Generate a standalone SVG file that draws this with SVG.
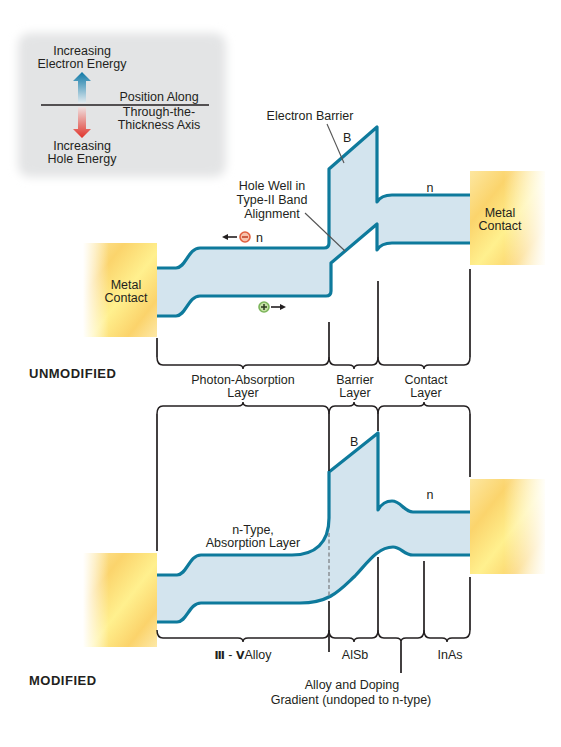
<svg xmlns="http://www.w3.org/2000/svg" width="561" height="747" viewBox="0 0 561 747">
<style>
text{font-family:"Liberation Sans",Arial,sans-serif;font-size:12.5px;fill:#231f20}
.c{text-anchor:middle}
.bold{font-weight:bold;font-size:13px;letter-spacing:0.5px}
.band{fill:none;stroke:#0e7a9c;stroke-width:3.2;stroke-linejoin:round}
.fill{fill:#d3e4ee;stroke:none}
.rule{stroke:#231f20;stroke-width:1.7;fill:none}
.brace{stroke:#231f20;stroke-width:1.5;fill:none}
.ptr{stroke:#555;stroke-width:1.1;fill:none}
</style>
<defs>
<filter id="soft" x="-20%" y="-20%" width="140%" height="140%"><feGaussianBlur stdDeviation="5"/></filter>
<linearGradient id="gold" x1="0" y1="0" x2="1" y2="1">
<stop offset="0" stop-color="#fde7a0"/>
<stop offset="0.28" stop-color="#fbd46c"/>
<stop offset="0.55" stop-color="#fff08e"/>
<stop offset="0.8" stop-color="#fbd36b"/>
<stop offset="1" stop-color="#fde9a8"/>
</linearGradient>
<linearGradient id="fadeL" x1="0" y1="0" x2="1" y2="0">
<stop offset="0" stop-color="#fff" stop-opacity="1"/>
<stop offset="0.35" stop-color="#fff" stop-opacity="0"/>
</linearGradient>
<linearGradient id="fadeR" x1="0" y1="0" x2="1" y2="0">
<stop offset="0.45" stop-color="#fff" stop-opacity="0"/>
<stop offset="1" stop-color="#fff" stop-opacity="0.95"/>
</linearGradient>
<linearGradient id="upG" gradientUnits="userSpaceOnUse" x1="0" y1="72" x2="0" y2="104">
<stop offset="0" stop-color="#0e78a6"/>
<stop offset="1" stop-color="#e8eef2"/>
</linearGradient>
<linearGradient id="dnG" gradientUnits="userSpaceOnUse" x1="0" y1="106" x2="0" y2="138">
<stop offset="0" stop-color="#f0e6e6"/>
<stop offset="1" stop-color="#e0332a"/>
</linearGradient>
</defs>

<g id="legend">
<rect x="18" y="33" width="208" height="144" rx="12" fill="#e3e4e5" filter="url(#soft)"/>
<polygon points="82,72 91,81 86,81 86,103 78,103 78,81 73,81" fill="url(#upG)"/>
<polygon points="78,107 86,107 86,129 91,129 82,138 73,129 78,129" fill="url(#dnG)"/>
<line x1="41" y1="105" x2="209" y2="105" stroke="#231f20" stroke-width="1.7"/>
<text class="c" x="82" y="54.5">Increasing</text>
<text class="c" x="82" y="67.5">Electron Energy</text>
<text class="c" x="159" y="100.5">Position Along</text>
<text class="c" x="159" y="115.5">Through-the-</text>
<text class="c" x="159" y="128.5">Thickness Axis</text>
<text class="c" x="82" y="149.5">Increasing</text>
<text class="c" x="82" y="162.5">Hole Energy</text>
</g>

<g id="contact-top-left">
<rect x="83" y="243" width="74" height="94" fill="url(#gold)"/>
<rect x="83" y="243" width="74" height="94" fill="url(#fadeL)"/>
<text class="c" x="126" y="288.5">Metal</text>
<text class="c" x="126" y="301.5">Contact</text>
</g>
<g id="contact-top-right">
<rect x="470" y="171" width="75" height="94" fill="url(#gold)"/>
<rect x="470" y="171" width="75" height="94" fill="url(#fadeR)"/>
<text class="c" x="500" y="216.5">Metal</text>
<text class="c" x="500" y="229.5">Contact</text>
</g>
<g id="contact-bottom-left">
<rect x="83" y="553" width="74" height="94" fill="url(#gold)"/>
<rect x="83" y="553" width="74" height="94" fill="url(#fadeL)"/>
</g>
<g id="contact-bottom-right">
<rect x="470" y="479" width="75" height="95" fill="url(#gold)"/>
<rect x="470" y="479" width="75" height="95" fill="url(#fadeR)"/>
</g>

<g id="band-unmodified">
<path class="fill" d="M157,268 H176 C186,268 188,248 200,248 H324 Q329,248 329,243 V169 L377,127 V202 C380,197 385,195 392,195 H470 V243 H392 C385,243 380,245 377,250 V224 L331,263 V291 Q331,296 326,296 H200 C188,296 186,316 176,316 H157 Z"/>
<path class="band" d="M157,268 H176 C186,268 188,248 200,248 H324 Q329,248 329,243 V169 L377,127 V202 C380,197 385,195 392,195 H470"/>
<path class="band" d="M157,316 H176 C186,316 188,296 200,296 H326 Q331,296 331,291 V263 L377,224 V250 C380,245 385,243 392,243 H470"/>
<text x="343" y="141.5">B</text>
<text class="c" x="430" y="191.5">n</text>
<text x="256" y="241.5">n</text>
</g>

<g id="carriers">
<line x1="237" y1="237" x2="227" y2="237" stroke="#231f20" stroke-width="1.6"/>
<polygon points="222,237 228,234 228,240" fill="#231f20"/>
<circle cx="245" cy="237" r="5" fill="#f7c2ad" stroke="#e2603f" stroke-width="1.6"/>
<line x1="242" y1="237" x2="248" y2="237" stroke="#c2452b" stroke-width="1.6"/>
<circle cx="264" cy="307" r="5" fill="#c5e0a5" stroke="#7cb55a" stroke-width="1.6"/>
<path d="M261,307 H267 M264,304 V310" stroke="#2d3a1f" stroke-width="1.5"/>
<line x1="271" y1="307" x2="281" y2="307" stroke="#231f20" stroke-width="1.6"/>
<polygon points="286,307 280,304 280,310" fill="#231f20"/>
</g>

<g id="annotations-top">
<text class="c" x="310" y="119.5">Electron Barrier</text>
<line class="ptr" x1="327" y1="124" x2="344" y2="163"/>
<text class="c" x="272" y="189.5">Hole Well in</text>
<text class="c" x="272" y="203.5">Type-II Band</text>
<text class="c" x="272" y="217.5">Alignment</text>
<line class="ptr" x1="305" y1="213" x2="345" y2="251"/>
</g>

<g id="band-modified">
<path class="fill" d="M157,575 H177 C187,575 189,555 201,555 H292 C315,555 329,543 329,518 V472 L378,433 V510 C382,503 386,501 392,501 C401,501 404,512 413,512 H470 V555 H413 C404,555 401,547 393,547 C378,547 368,562 355,576 C340,590 330,603 300,603 H201 C189,603 187,622 177,622 H157 Z"/>
<path class="band" d="M157,575 H177 C187,575 189,555 201,555 H292 C315,555 329,543 329,518 V472 L378,433 V510 C382,503 386,501 392,501 C401,501 404,512 413,512 H470"/>
<path class="band" d="M157,622 H177 C187,622 189,603 201,603 H300 C330,603 340,590 355,576 C368,562 378,547 393,547 C401,547 404,555 413,555 H470"/>
<line x1="329" y1="533" x2="329" y2="598" stroke="#8a8f94" stroke-width="1.5" stroke-dasharray="4,2.5"/>
<text x="350" y="445.5">B</text>
<text class="c" x="430" y="498.5">n</text>
<text class="c" x="253" y="533.5">n-Type,</text>
<text class="c" x="253" y="546.5">Absorption Layer</text>
</g>

<g id="connectors">
<path class="rule" d="M157,338 V357 M329,322 V357 M378,281 V357 M470,269 V357"/>
<path class="rule" d="M157,414 V551 M329,414 V471 M378,414 V431 M470,414 V477"/>
<path class="rule" d="M329,601 V652 M378,557 V630 M424,561 V630 M470,577 V630 M401,642 V673"/>
<path class="brace" d="M157,357 Q157,365 163,365 H238 Q243,365 243,369 Q243,365 248,365 H323 Q329,365 329,357"/>
<path class="brace" d="M329,357 Q329,365 335,365 H349 Q354,365 354,369 Q354,365 359,365 H372 Q378,365 378,357"/>
<path class="brace" d="M378,357 Q378,365 384,365 H419 Q424,365 424,369 Q424,365 429,365 H464 Q470,365 470,357"/>
<path class="brace" d="M157,414 Q157,406 163,406 H238 Q243,406 243,402 Q243,406 248,406 H323 Q329,406 329,414"/>
<path class="brace" d="M329,414 Q329,406 335,406 H349 Q354,406 354,402 Q354,406 359,406 H372 Q378,406 378,414"/>
<path class="brace" d="M378,414 Q378,406 384,406 H419 Q424,406 424,402 Q424,406 429,406 H464 Q470,406 470,414"/>
<path class="brace" d="M157,630 Q157,638 163,638 H238 Q243,638 243,642 Q243,638 248,638 H323 Q329,638 329,630"/>
<path class="brace" d="M329,630 Q329,638 335,638 H349 Q354,638 354,642 Q354,638 359,638 H372 Q378,638 378,630"/>
<path class="brace" d="M378,630 Q378,638 384,638 H396 Q401,638 401,642 Q401,638 406,638 H418 Q424,638 424,630"/>
<path class="brace" d="M424,630 Q424,638 430,638 H442 Q447,638 447,642 Q447,638 452,638 H464 Q470,638 470,630"/>
</g>

<g id="labels">
<text class="bold" x="29" y="377.5">UNMODIFIED</text>
<text class="c" x="243" y="383.5">Photon-Absorption</text>
<text class="c" x="243" y="396.5">Layer</text>
<text class="c" x="355" y="383.5">Barrier</text>
<text class="c" x="355" y="396.5">Layer</text>
<text class="c" x="426" y="383.5">Contact</text>
<text class="c" x="426" y="396.5">Layer</text>
<text class="c" x="243" y="658.5"><tspan font-family="'DejaVu Sans',sans-serif" font-weight="bold" font-size="11">Ⅲ</tspan> - <tspan font-family="'DejaVu Sans',sans-serif" font-weight="bold" font-size="11">Ⅴ</tspan>Alloy</text>
<text class="c" x="355" y="658.5">AlSb</text>
<text class="c" x="450" y="658.5">InAs</text>
<text class="bold" x="29" y="684.5">MODIFIED</text>
<text class="c" x="352" y="688.5">Alloy and Doping</text>
<text class="c" x="351" y="703.5">Gradient (undoped to n-type)</text>
</g>
</svg>
